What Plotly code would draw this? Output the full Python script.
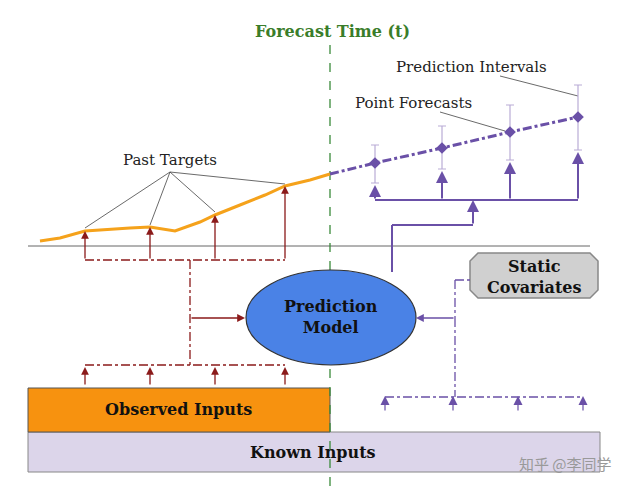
import plotly.graph_objects as go

past_x = [40, 60, 85, 110, 130, 150, 175, 200, 215, 240, 265, 285, 310, 330]
past_y = [241, 238, 231, 229, 228, 227, 231, 222, 215, 205, 195, 186, 180, 174]
fc_x = [330, 375, 442, 510, 578]
fc_y = [174, 163, 148, 132, 117]
lo = [183, 169, 160, 150]
hi = [145, 126, 105, 85]
red_x = [85, 150, 215, 285]
purple_x = [385, 453, 518, 583]

RED = "#8b1a1a"; PUR = "#6a50a7"; SERIF = "DejaVu Serif"
fig = go.Figure()
shapes = []; ann = []

def line(x0, y0, x1, y1, color, dash="solid", w=1.3):
    shapes.append(dict(type="line", x0=x0, y0=y0, x1=x1, y1=y1, line=dict(color=color, dash=dash, width=w), layer="below"))

def arrow(x0, y0, x1, y1, color, w=1.3, size=1.2):
    ann.append(dict(x=x1, y=y1, ax=x0, ay=y0, xref="x", yref="y", axref="x", ayref="y", text="",
                    showarrow=True, arrowhead=2, arrowsize=size, arrowwidth=w, arrowcolor=color))

def text(x, y, s, size=15, color="#222", bold=False, font=SERIF):
    ann.append(dict(x=x, y=y, xref="x", yref="y", text=f"<b>{s}</b>" if bold else s, showarrow=False,
                    font=dict(family=font, size=size, color=color)))

shapes.append(dict(type="rect", x0=28, y0=432, x1=600, y1=472, fillcolor="#dcd5ea", line=dict(color="#888", width=1), layer="below"))
shapes.append(dict(type="rect", x0=28, y0=388, x1=330, y1=432, fillcolor="#f7920f", line=dict(color="#555", width=1), layer="below"))
shapes.append(dict(type="path", path="M478,253 L590,253 L598,261 L598,290 L590,298 L478,298 L470,290 L470,261 Z",
                   fillcolor="#d0d0d0", line=dict(color="#888", width=1.5), layer="below"))
line(28, 246, 590, 246, "#666", w=1)
line(330, 45, 330, 490, "#3a8a3a", dash="dash", w=1.3)
line(85, 260, 285, 260, RED, "dashdot"); line(190, 260, 190, 365, RED, "dashdot")
line(85, 365, 285, 365, RED, "dashdot")
for x, y in zip(red_x, [231, 227, 215, 186]):
    arrow(x, 260, x, y, RED)
    arrow(x, 386, x, 367, RED)
arrow(190, 318, 245, 318, RED)
line(455, 280, 470, 280, PUR, "dashdot"); line(455, 280, 455, 318, PUR, "dashdot")
arrow(455, 318, 416, 318, PUR)
line(385, 397, 583, 397, PUR, "dashdot"); line(455, 318, 455, 397, PUR, "dashdot")
for x in purple_x:
    arrow(x, 412, x, 396, PUR, 1.2, 1.5)
line(392, 272, 392, 225, PUR, w=2); line(392, 225, 473, 225, PUR, w=2)
arrow(473, 225, 473, 200, PUR, 2)
line(375, 200, 578, 200, PUR, w=2)
for x, l in zip(fc_x[1:], lo):
    arrow(x, 200, x, l + 2, PUR, 2)
shapes.append(dict(type="circle", x0=246, y0=270, x1=416, y1=365, fillcolor="#4a82e6", line=dict(color="#333", width=1.2)))

fig.add_trace(go.Scatter(x=past_x, y=past_y, mode="lines", line=dict(color="#f5a21b", width=3), hoverinfo="skip"))
fig.add_trace(go.Scatter(x=fc_x, y=fc_y, mode="lines", line=dict(color=PUR, width=3, dash="dashdot"), hoverinfo="skip"))
fig.add_trace(go.Scatter(x=fc_x[1:], y=fc_y[1:], mode="markers", marker=dict(symbol="diamond", size=9, color=PUR),
                         error_y=dict(type="data", symmetric=False, array=[l - y for l, y in zip(lo, fc_y[1:])],
                                      arrayminus=[y - h for h, y in zip(hi, fc_y[1:])], color="#b9acd6", width=4, thickness=1.2),
                         hoverinfo="skip"))

for x, y in zip(red_x, [228, 225, 212, 184]):
    line(170, 172, x, y, "#444", w=0.8)
line(440, 112, 505, 131, "#444", w=0.8)
line(500, 76, 578, 96, "#444", w=0.8)
text(170, 160, "Past Targets", 15)
text(413, 103, "Point Forecasts", 15)
text(471, 67, "Prediction Intervals", 15)
text(332, 31, "Forecast Time (t)", 16, "#3a7d2a", True)
text(331, 317, "Prediction<br>Model", 16, "#111", True)
text(534, 277, "Static<br>Covariates", 16, "#111", True)
text(178, 409, "Observed Inputs", 16, "#111", True)
text(313, 452, "Known Inputs", 16, "#111", True)
text(565, 463, "知乎 @李同学", 15, "#999", font="Noto Sans CJK SC")

fig.update_layout(width=642, height=491, margin=dict(l=0, r=0, t=0, b=0), showlegend=False,
                  plot_bgcolor="white", paper_bgcolor="white", shapes=shapes, annotations=ann,
                  xaxis=dict(range=[8, 650], visible=False), yaxis=dict(range=[499, 8], visible=False))
fig.write_html("out.html")
